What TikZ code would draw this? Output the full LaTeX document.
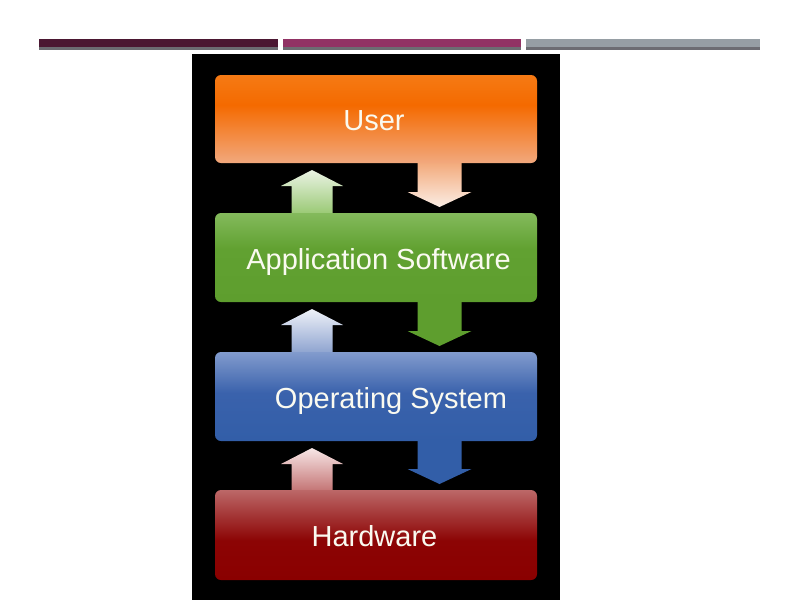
\documentclass[tikz,border=0pt]{standalone}
\usepackage{fontspec}
\setmainfont{Liberation Sans}
\usetikzlibrary{calc}
\pgfdeclarelayer{bglayer}
\pgfdeclarelayer{arrowlayer}
\pgfsetlayers{bglayer,arrowlayer,main}

\definecolor{barA}{RGB}{75,23,50}
\definecolor{barB}{RGB}{145,50,100}
\definecolor{barC}{RGB}{150,158,164}
\definecolor{barShadow}{RGB}{108,108,114}
\definecolor{txt}{RGB}{250,250,240}

\definecolor{uT}{RGB}{245,122,20}
\definecolor{uM}{RGB}{244,106,0}
\definecolor{uB}{RGB}{242,168,125}
\definecolor{gT}{RGB}{132,186,92}
\definecolor{gM}{RGB}{97,161,49}
\definecolor{gB}{RGB}{94,158,46}
\definecolor{bT}{RGB}{130,155,205}
\definecolor{bM}{RGB}{58,98,172}
\definecolor{bB}{RGB}{50,94,168}
\definecolor{rT}{RGB}{188,104,104}
\definecolor{rM}{RGB}{140,4,4}
\definecolor{rB}{RGB}{138,0,0}

\pgfdeclareverticalshading{usershade}{100bp}{color(0bp)=(uB); color(25bp)=(uB); color(58bp)=(uM); color(75bp)=(uT); color(100bp)=(uT)}
\pgfdeclareverticalshading{appshade}{100bp}{color(0bp)=(gB); color(25bp)=(gB); color(55bp)=(gM); color(75bp)=(gT); color(100bp)=(gT)}
\pgfdeclareverticalshading{osshade}{100bp}{color(0bp)=(bB); color(25bp)=(bB); color(52bp)=(bM); color(75bp)=(bT); color(100bp)=(bT)}
\pgfdeclareverticalshading{hwshade}{100bp}{color(0bp)=(rB); color(25bp)=(rB); color(47bp)=(rM); color(75bp)=(rT); color(100bp)=(rT)}

% #1 lower node, #2 upper node, #3 style
\newcommand{\blkup}[3]{%
  \shade[#3] ($(#1.north)+(-84.5,4)$) -- ($(#2.south)+(-84.5,23)$) -- ($(#2.south)+(-95,23)$) -- ($(#2.south)+(-64,7)$) -- ($(#2.south)+(-33,23)$) -- ($(#2.south)+(-43.5,23)$) -- ($(#1.north)+(-43.5,4)$) -- cycle;}
% #1 upper node, #2 lower node, #3 style
\newcommand{\blkdown}[3]{%
  \shade[#3] ($(#1.south)+(41.5,-4)$) -- ($(#2.north)+(41.5,-21)$) -- ($(#2.north)+(31.5,-21)$) -- ($(#2.north)+(63.5,-6)$) -- ($(#2.north)+(95.5,-21)$) -- ($(#2.north)+(85.5,-21)$) -- ($(#1.south)+(85.5,-4)$) -- cycle;}

\begin{document}
\begin{tikzpicture}[x=1pt,y=-1pt,
  box/.style={rectangle, rounded corners=6pt, minimum width=322pt, inner sep=0pt, outer sep=0pt},
  lbl/.style={anchor=base, text=txt, font=\fontsize{29}{31}\selectfont, inner sep=0pt}]
\useasboundingbox (0,0) rectangle (800,600);

\begin{pgfonlayer}{bglayer}
  \fill[white] (0,0) rectangle (800,600);
  \fill[barShadow] (39,46) rectangle (278,49.5);
  \fill[barShadow] (283,46) rectangle (521,49.5);
  \fill[barShadow] (526,46) rectangle (760,49.5);
  \fill[barA] (39,39) rectangle (278,46.5);
  \fill[barB] (283,39) rectangle (521,46.5);
  \fill[barC] (526,39) rectangle (760,46.5);
  \fill[black] (192,54) rectangle (560,600);
\end{pgfonlayer}

\node[box, shading=usershade, minimum height=88pt] (user) at (376,119) {};
\node[box, shading=appshade, minimum height=89pt] (app) at (376,257.5) {};
\node[box, shading=osshade, minimum height=89pt] (os) at (376,396.5) {};
\node[box, shading=hwshade, minimum height=90pt] (hw) at (376,535) {};

\begin{pgfonlayer}{arrowlayer}
  \blkdown{user}{app}{top color={rgb,255:red,242;green,165;blue,115}, bottom color={rgb,255:red,251;green,237;blue,228}}
  \blkup{app}{user}{top color={rgb,255:red,234;green,243;blue,228}, bottom color={rgb,255:red,148;green,198;blue,108}}
  \blkdown{app}{os}{top color=gB, bottom color=gB}
  \blkup{os}{app}{top color={rgb,255:red,238;green,241;blue,248}, bottom color={rgb,255:red,135;green,158;blue,205}}
  \blkdown{os}{hw}{top color=bB, bottom color=bB}
  \blkup{hw}{os}{top color={rgb,255:red,247;green,230;blue,230}, bottom color={rgb,255:red,192;green,108;blue,108}}
\end{pgfonlayer}

\node[lbl] (userlbl) at (374,130) {User};
\node[lbl] (applbl) at (378.5,269) {Application Software};
\node[lbl] (oslbl) at (391,408) {Operating System};
\node[lbl] (hwlbl) at (374.5,546) {Hardware};
\end{tikzpicture}
\end{document}
